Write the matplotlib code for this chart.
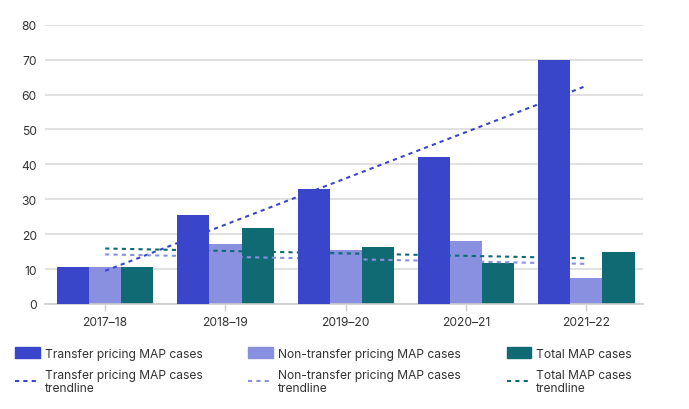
import matplotlib.pyplot as plt
import numpy as np
from matplotlib.lines import Line2D
from matplotlib.patches import Patch

plt.rcParams['font.family'] = ['Inter', 'DejaVu Sans']

# Data
years = ["2017–18", "2018–19", "2019–20", "2020–21", "2021–22"]
tp_cases = [10.5, 25.5, 33, 42, 70]
non_tp_cases = [10.5, 17.3, 15.5, 18, 7.5]
total_cases = [10.5, 21.7, 16.3, 11.8, 15]

# trendline end values (first year, last year) as drawn
tp_trend = [9.5, 62.5]
non_tp_trend = [14.2, 11.5]
total_trend = [15.9, 13.1]

tp_col = "#3a46c9"
ntp_col = "#8990df"
tot_col = "#0f6a73"
text_col = "#333333"
fs = 8.7

fig = plt.figure(figsize=(6.89, 4.10), dpi=100)
ax = fig.add_axes([0.0653, 0.2561, 0.8679, 0.6812])

x = np.arange(len(years))
w = 0.267

ax.bar(x, non_tp_cases, w, color=ntp_col, zorder=2)
ax.bar(x + w, total_cases, w, color=tot_col, zorder=2)
ax.bar(x - w, tp_cases, w, color=tp_col, zorder=4)

ends = [x[0], x[-1]]
ax.plot(ends, tp_trend, color=tp_col, lw=1.5, dashes=(2, 2), zorder=3)
ax.plot(ends, non_tp_trend, color=ntp_col, lw=1.5, dashes=(2, 2), zorder=3)
ax.plot(ends, total_trend, color=tot_col, lw=1.5, dashes=(2, 2), zorder=3)

ax.set_xlim(-0.5, 4.47)
ax.set_ylim(0, 80)
ax.set_yticks(range(0, 81, 10))
ax.yaxis.grid(True, color="#dcdcdc", lw=1.2, zorder=0)
ax.set_axisbelow(True)
for s in ["top", "right", "left"]:
    ax.spines[s].set_visible(False)
ax.spines["bottom"].set_color("#cccccc")
ax.spines["bottom"].set_linewidth(1.2)
ax.set_xticks(x)
ax.set_xticklabels(years)
ax.tick_params(axis="x", colors="#cccccc", length=5, width=1, labelcolor=text_col, labelsize=fs, pad=3.5)
ax.tick_params(axis="y", length=0, labelcolor=text_col, labelsize=fs, pad=6)

handles = [
    Patch(color=tp_col), Line2D([], [], color=tp_col, lw=1.5, dashes=(2, 2)),
    Patch(color=ntp_col), Line2D([], [], color=ntp_col, lw=1.5, dashes=(2, 2)),
    Patch(color=tot_col), Line2D([], [], color=tot_col, lw=1.5, dashes=(2, 2)),
]
labels = [
    "Transfer pricing MAP cases", "Transfer pricing MAP cases\ntrendline",
    "Non-transfer pricing MAP cases", "Non-transfer pricing MAP cases\ntrendline",
    "Total MAP cases", "Total MAP cases\ntrendline",
]
fig.legend(handles, labels, ncol=3, loc="upper left",
           bbox_to_anchor=(15 / 689, 1 - 348 / 410),
           frameon=False, fontsize=fs, labelcolor=text_col,
           handlelength=2.05, handleheight=1.0, handletextpad=0.4,
           columnspacing=3.8, labelspacing=0.75, borderpad=0, borderaxespad=0)

plt.savefig("out.png", dpi=100)
